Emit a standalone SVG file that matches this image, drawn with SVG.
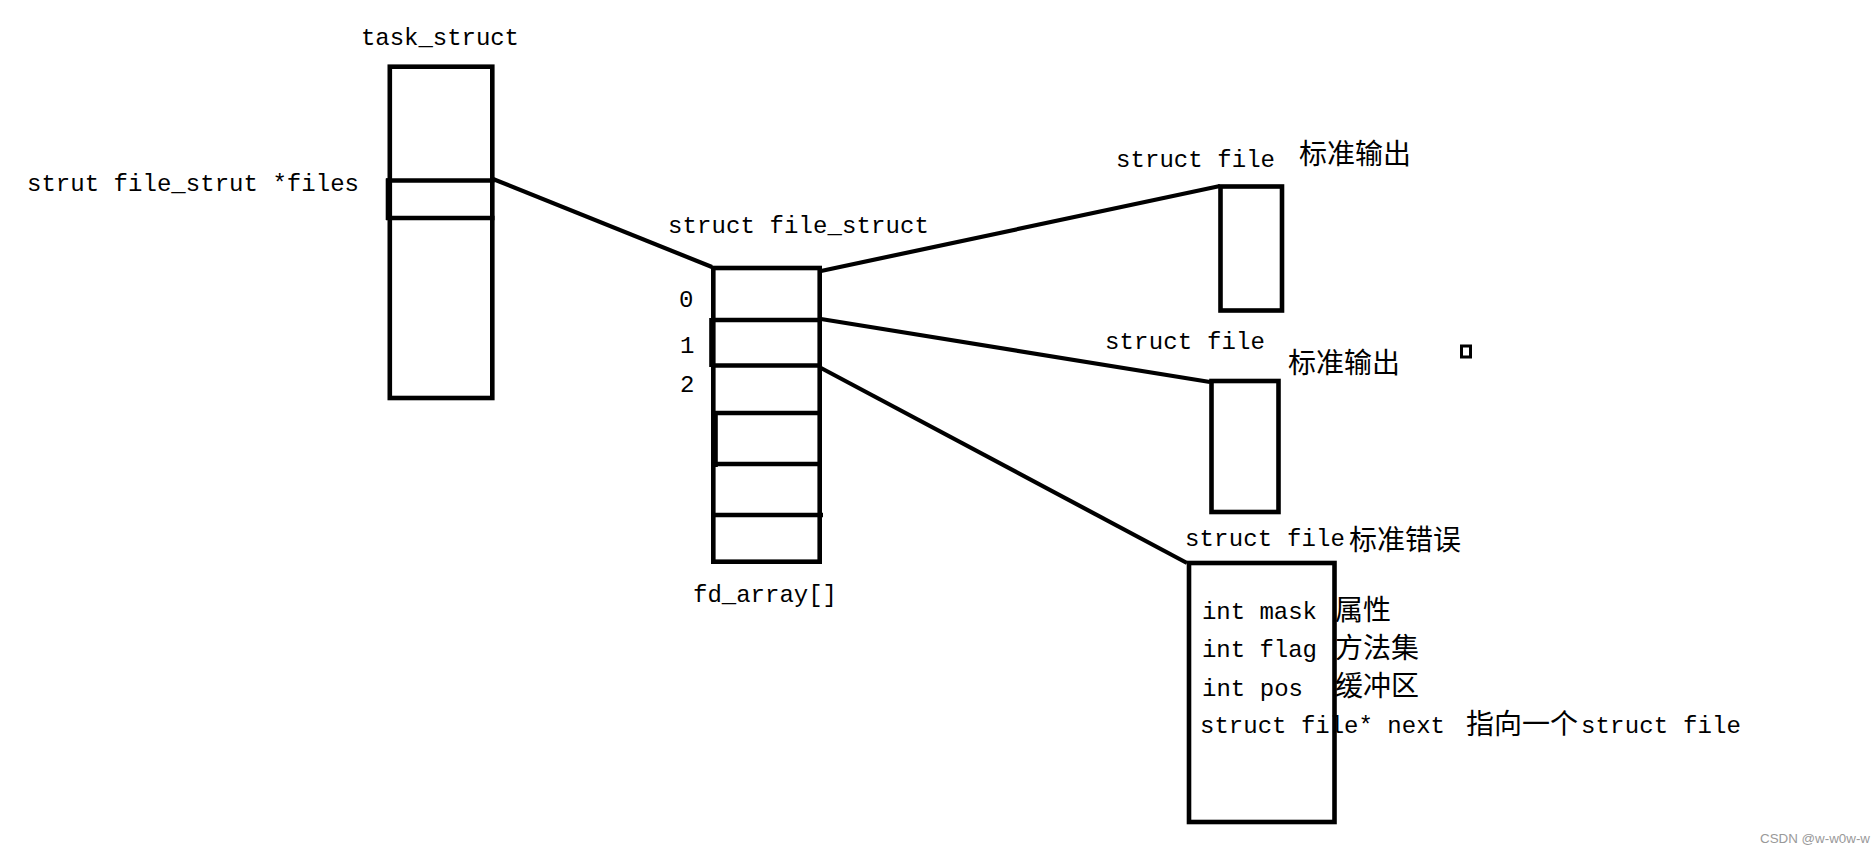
<svg xmlns="http://www.w3.org/2000/svg" width="1875" height="857" viewBox="0 0 1875 857">
<style>
.box{fill:none;stroke:#000;stroke-width:4.6}
.ln{fill:none;stroke:#000;stroke-width:4.2}
.t{font-family:"Liberation Mono","DejaVu Sans Mono",monospace;font-size:24px;fill:#000}
.cj{font-family:"Noto Sans CJK SC","Noto Sans CJK JP",sans-serif;font-size:28px;fill:#000}
.wm{font-family:"Liberation Sans",Arial,sans-serif;font-size:13px;fill:#999}
</style>
<rect width="1875" height="857" fill="#fff"/>
<g id="connectors">
<line class="ln" x1="493" y1="179" x2="712" y2="267"/>
<line class="ln" x1="821" y1="271" x2="1220" y2="186"/>
<line class="ln" x1="821" y1="319" x2="1210" y2="382"/>
<line class="ln" x1="821" y1="368" x2="1187" y2="563"/>
</g>
<g id="task_struct">
<text class="t" x="361" y="45" textLength="158" lengthAdjust="spacing">task_struct</text>
<rect class="box" x="389.8" y="66.7" width="102.5" height="331.3"/>
<line class="box" x1="386" y1="180.5" x2="494.5" y2="180.5"/>
<line class="box" x1="386" y1="218" x2="494.5" y2="218"/>
<line class="box" x1="388" y1="178.5" x2="388" y2="220"/>
<text class="t" x="27" y="191" textLength="332" lengthAdjust="spacing">strut file_strut *files</text>
</g>
<g id="file_struct">
<text class="t" x="668" y="233" textLength="261" lengthAdjust="spacing">struct file_struct</text>
<rect class="box" x="713.3" y="268" width="106.4" height="293.7"/>
<line class="box" x1="711" y1="320" x2="822" y2="320"/>
<line class="box" x1="711" y1="365.5" x2="822" y2="365.5"/>
<line class="box" x1="711" y1="413" x2="822" y2="413"/>
<line class="box" x1="711" y1="464" x2="822" y2="464"/>
<line class="box" x1="711" y1="515" x2="823" y2="515"/>
<line class="box" x1="711.5" y1="318" x2="711.5" y2="367"/>
<line class="box" x1="715.5" y1="411" x2="715.5" y2="467"/>
<text class="t" x="679" y="307">0</text>
<text class="t" x="680" y="353">1</text>
<text class="t" x="680" y="392">2</text>
<text class="t" x="693" y="602" textLength="144" lengthAdjust="spacing">fd_array[]</text>
</g>
<g id="file_stdout1">
<text class="t" x="1116" y="167" textLength="159" lengthAdjust="spacing">struct file</text>
<text class="cj" x="1299" y="164">标准输出</text>
<rect class="box" x="1220.5" y="186.5" width="61.5" height="124"/>
</g>
<g id="file_stdout2">
<text class="t" x="1105" y="349" textLength="160" lengthAdjust="spacing">struct file</text>
<text class="cj" x="1288" y="373">标准输出</text>
<rect class="box" x="1211.5" y="381" width="67" height="131"/>
</g>
<g id="marker_square">
<rect x="1461.5" y="346" width="9" height="11" fill="none" stroke="#000" stroke-width="3"/>
</g>
<g id="file_stderr">
<text class="t" x="1185" y="546" textLength="160" lengthAdjust="spacing">struct file</text>
<text class="cj" x="1349" y="550">标准错误</text>
<rect class="box" x="1189" y="563" width="145.5" height="259"/>
<text class="t" x="1202" y="619" textLength="115" lengthAdjust="spacing">int mask</text>
<text class="cj" x="1335" y="620">属性</text>
<text class="t" x="1202" y="657" textLength="115" lengthAdjust="spacing">int flag</text>
<text class="cj" x="1335" y="658">方法集</text>
<text class="t" x="1202" y="696" textLength="101" lengthAdjust="spacing">int pos</text>
<text class="cj" x="1335" y="696">缓冲区</text>
<text class="t" x="1200" y="733" textLength="245" lengthAdjust="spacing">struct file* next</text>
<text class="cj" x="1466" y="734">指向一个</text>
<text class="t" x="1581" y="733" textLength="160" lengthAdjust="spacing">struct file</text>
</g>
<text class="wm" x="1760" y="843" textLength="110" lengthAdjust="spacingAndGlyphs">CSDN @w-w0w-w</text>
</svg>
